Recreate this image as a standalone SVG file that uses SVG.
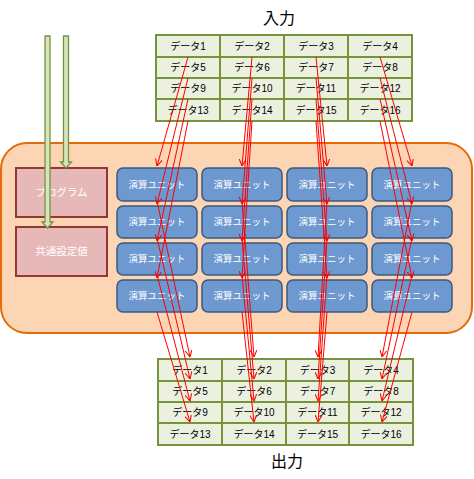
<svg xmlns="http://www.w3.org/2000/svg" width="474" height="479" viewBox="0 0 474 479">
<style>
.cell{fill:#EBF1DE;stroke:#77933C;stroke-width:2}
.ct{font-family:"Liberation Sans","Noto Sans CJK JP",sans-serif;font-size:10px;fill:#000;text-anchor:middle}
.title{font-family:"Noto Sans CJK JP",sans-serif;font-size:16px;fill:#000;text-anchor:middle}
.unit{fill:#6D99D0;stroke:#3A5A80;stroke-width:1.5}
.ut{font-family:"Noto Sans CJK JP",sans-serif;font-size:9.5px;fill:#fff;text-anchor:middle}
.lbox{fill:#E6B9B8;stroke:#953735;stroke-width:2}
.lt{font-family:"Noto Sans CJK JP",sans-serif;font-size:10.5px;fill:#fff;text-anchor:middle}
.red{stroke:#FF0000;stroke-width:1;fill:none;marker-end:url(#ah)}
.garrow{fill:#D7E4BD;stroke:#77933C;stroke-width:1.3}
</style>
<defs>
<marker id="ah" viewBox="0 0 10 10" refX="10" refY="5" markerWidth="7" markerHeight="7" markerUnits="userSpaceOnUse" orient="auto">
<path d="M0,0 L10,5 L0,10" fill="none" stroke="#FF0000" stroke-width="1.5"/>
</marker>
</defs>
<rect width="474" height="479" fill="#fff"/>

<g id="title-in"><text class="title" x="279" y="24">入力</text></g>
<g id="title-out"><text class="title" x="287" y="467">出力</text></g>

<g id="input-table">
<rect class="cell" x="156" y="35" width="64" height="22"/><text class="ct" x="188" y="50">データ1</text>
<rect class="cell" x="220" y="35" width="64" height="22"/><text class="ct" x="252" y="50">データ2</text>
<rect class="cell" x="284" y="35" width="64" height="22"/><text class="ct" x="316" y="50">データ3</text>
<rect class="cell" x="348" y="35" width="64" height="22"/><text class="ct" x="380" y="50">データ4</text>
<rect class="cell" x="156" y="57" width="64" height="21"/><text class="ct" x="188" y="71">データ5</text>
<rect class="cell" x="220" y="57" width="64" height="21"/><text class="ct" x="252" y="71">データ6</text>
<rect class="cell" x="284" y="57" width="64" height="21"/><text class="ct" x="316" y="71">データ7</text>
<rect class="cell" x="348" y="57" width="64" height="21"/><text class="ct" x="380" y="71">データ8</text>
<rect class="cell" x="156" y="78" width="64" height="21"/><text class="ct" x="188" y="92">データ9</text>
<rect class="cell" x="220" y="78" width="64" height="21"/><text class="ct" x="252" y="92">データ10</text>
<rect class="cell" x="284" y="78" width="64" height="21"/><text class="ct" x="316" y="92">データ11</text>
<rect class="cell" x="348" y="78" width="64" height="21"/><text class="ct" x="380" y="92">データ12</text>
<rect class="cell" x="156" y="99" width="64" height="22"/><text class="ct" x="188" y="114">データ13</text>
<rect class="cell" x="220" y="99" width="64" height="22"/><text class="ct" x="252" y="114">データ14</text>
<rect class="cell" x="284" y="99" width="64" height="22"/><text class="ct" x="316" y="114">データ15</text>
<rect class="cell" x="348" y="99" width="64" height="22"/><text class="ct" x="380" y="114">データ16</text>
</g>

<g id="processor"><rect x="1" y="143" width="471" height="190" rx="26" fill="#FCD5B5" stroke="#E36C09" stroke-width="2"/></g>

<g id="program"><rect class="lbox" x="16" y="168" width="91" height="49"/><text class="lt" x="61.5" y="196">プログラム</text></g>
<g id="common"><rect class="lbox" x="16" y="227" width="91" height="49"/><text class="lt" x="61.5" y="255">共通設定値</text></g>

<g id="units">
<rect class="unit" x="117" y="168" width="80" height="33" rx="6"/><text class="ut" x="157" y="188">演算ユニット</text>
<rect class="unit" x="202" y="168" width="80" height="33" rx="6"/><text class="ut" x="242" y="188">演算ユニット</text>
<rect class="unit" x="287" y="168" width="80" height="33" rx="6"/><text class="ut" x="327" y="188">演算ユニット</text>
<rect class="unit" x="372" y="168" width="80" height="33" rx="6"/><text class="ut" x="412" y="188">演算ユニット</text>
<rect class="unit" x="117" y="206" width="80" height="32" rx="6"/><text class="ut" x="157" y="225">演算ユニット</text>
<rect class="unit" x="202" y="206" width="80" height="32" rx="6"/><text class="ut" x="242" y="225">演算ユニット</text>
<rect class="unit" x="287" y="206" width="80" height="32" rx="6"/><text class="ut" x="327" y="225">演算ユニット</text>
<rect class="unit" x="372" y="206" width="80" height="32" rx="6"/><text class="ut" x="412" y="225">演算ユニット</text>
<rect class="unit" x="117" y="243" width="80" height="32" rx="6"/><text class="ut" x="157" y="262">演算ユニット</text>
<rect class="unit" x="202" y="243" width="80" height="32" rx="6"/><text class="ut" x="242" y="262">演算ユニット</text>
<rect class="unit" x="287" y="243" width="80" height="32" rx="6"/><text class="ut" x="327" y="262">演算ユニット</text>
<rect class="unit" x="372" y="243" width="80" height="32" rx="6"/><text class="ut" x="412" y="262">演算ユニット</text>
<rect class="unit" x="117" y="280" width="80" height="32" rx="6"/><text class="ut" x="157" y="299">演算ユニット</text>
<rect class="unit" x="202" y="280" width="80" height="32" rx="6"/><text class="ut" x="242" y="299">演算ユニット</text>
<rect class="unit" x="287" y="280" width="80" height="32" rx="6"/><text class="ut" x="327" y="299">演算ユニット</text>
<rect class="unit" x="372" y="280" width="80" height="32" rx="6"/><text class="ut" x="412" y="299">演算ユニット</text>
</g>

<g id="output-table">
<rect class="cell" x="158" y="359" width="64" height="22"/><text class="ct" x="190" y="374">データ1</text>
<rect class="cell" x="222" y="359" width="64" height="22"/><text class="ct" x="254" y="374">データ2</text>
<rect class="cell" x="286" y="359" width="63" height="22"/><text class="ct" x="317.5" y="374">データ3</text>
<rect class="cell" x="349" y="359" width="64" height="22"/><text class="ct" x="381" y="374">データ4</text>
<rect class="cell" x="158" y="381" width="64" height="21"/><text class="ct" x="190" y="395">データ5</text>
<rect class="cell" x="222" y="381" width="64" height="21"/><text class="ct" x="254" y="395">データ6</text>
<rect class="cell" x="286" y="381" width="63" height="21"/><text class="ct" x="317.5" y="395">データ7</text>
<rect class="cell" x="349" y="381" width="64" height="21"/><text class="ct" x="381" y="395">データ8</text>
<rect class="cell" x="158" y="402" width="64" height="21"/><text class="ct" x="190" y="416">データ9</text>
<rect class="cell" x="222" y="402" width="64" height="21"/><text class="ct" x="254" y="416">データ10</text>
<rect class="cell" x="286" y="402" width="63" height="21"/><text class="ct" x="317.5" y="416">データ11</text>
<rect class="cell" x="349" y="402" width="64" height="21"/><text class="ct" x="381" y="416">データ12</text>
<rect class="cell" x="158" y="423" width="64" height="22"/><text class="ct" x="190" y="438">データ13</text>
<rect class="cell" x="222" y="423" width="64" height="22"/><text class="ct" x="254" y="438">データ14</text>
<rect class="cell" x="286" y="423" width="63" height="22"/><text class="ct" x="317.5" y="438">データ15</text>
<rect class="cell" x="349" y="423" width="64" height="22"/><text class="ct" x="381" y="438">データ16</text>
</g>

<g id="connectors">
<polygon class="garrow" points="63.5,36 68.5,36 68.5,162 71.5,162 66,168 60.5,162 63.5,162"/>
<polygon class="garrow" points="45,36 50,36 50,222 53,222 47.5,228 42,222 45,222"/>

<line class="red" x1="188" y1="57" x2="157" y2="166"/>
<line class="red" x1="188" y1="78" x2="157" y2="204"/>
<line class="red" x1="188" y1="99" x2="157" y2="241"/>
<line class="red" x1="188" y1="121" x2="157" y2="278"/>
<line class="red" x1="252" y1="57" x2="242" y2="166"/>
<line class="red" x1="252" y1="78" x2="242" y2="204"/>
<line class="red" x1="252" y1="99" x2="242" y2="241"/>
<line class="red" x1="252" y1="121" x2="242" y2="278"/>
<line class="red" x1="316" y1="57" x2="327" y2="166"/>
<line class="red" x1="316" y1="78" x2="327" y2="204"/>
<line class="red" x1="316" y1="99" x2="327" y2="241"/>
<line class="red" x1="316" y1="121" x2="327" y2="278"/>
<line class="red" x1="380" y1="57" x2="412" y2="166"/>
<line class="red" x1="380" y1="78" x2="412" y2="204"/>
<line class="red" x1="380" y1="99" x2="412" y2="241"/>
<line class="red" x1="380" y1="121" x2="412" y2="278"/>

<line class="red" x1="157" y1="201" x2="190" y2="357"/>
<line class="red" x1="157" y1="238" x2="190" y2="379"/>
<line class="red" x1="157" y1="275" x2="190" y2="401"/>
<line class="red" x1="157" y1="312" x2="190" y2="422"/>
<line class="red" x1="242" y1="201" x2="254" y2="357"/>
<line class="red" x1="242" y1="238" x2="254" y2="379"/>
<line class="red" x1="242" y1="275" x2="254" y2="401"/>
<line class="red" x1="242" y1="312" x2="254" y2="422"/>
<line class="red" x1="327" y1="201" x2="318" y2="357"/>
<line class="red" x1="327" y1="238" x2="318" y2="379"/>
<line class="red" x1="327" y1="275" x2="318" y2="401"/>
<line class="red" x1="327" y1="312" x2="318" y2="422"/>
<line class="red" x1="412" y1="201" x2="382" y2="357"/>
<line class="red" x1="412" y1="238" x2="382" y2="379"/>
<line class="red" x1="412" y1="275" x2="382" y2="401"/>
<line class="red" x1="412" y1="312" x2="382" y2="422"/>
</g>
</svg>
